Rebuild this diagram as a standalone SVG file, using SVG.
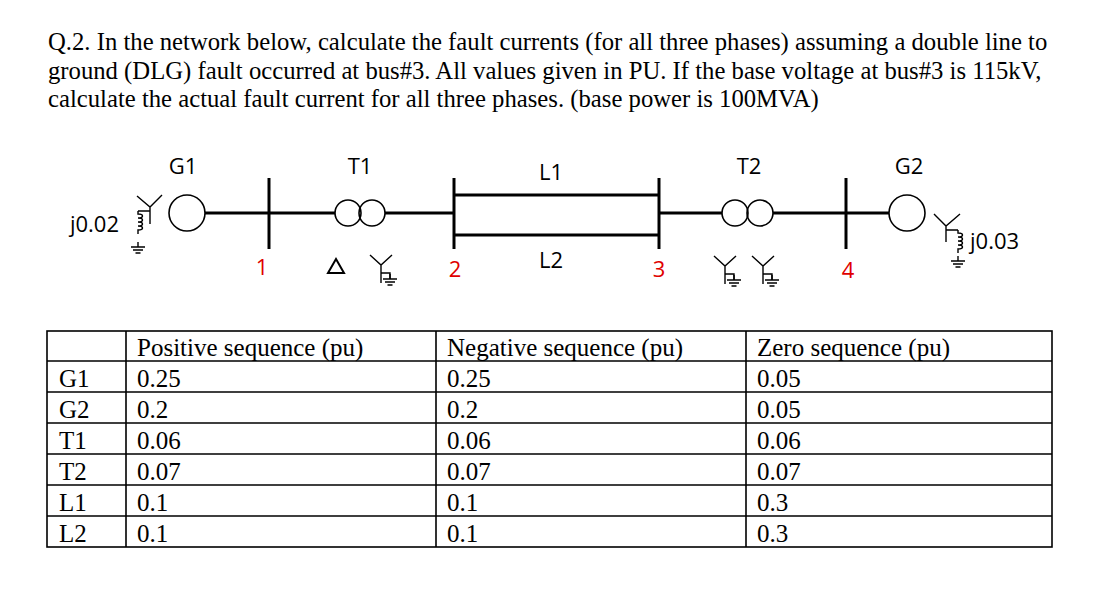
<svg xmlns="http://www.w3.org/2000/svg" width="1113" height="608" viewBox="0 0 1113 608">
<style>
.q{font-family:"Liberation Serif",serif;font-size:24.7px;fill:#000}
.t{font-family:"Liberation Serif",serif;font-size:25px;fill:#000}
.s{font-family:"Open Sans","Noto Sans",sans-serif;font-size:22px;fill:#000}
.r{font-family:"Open Sans","Noto Sans",sans-serif;font-size:22px;fill:#e00000}
.b{stroke:#000;stroke-width:3;fill:none}
.w{stroke:#000;stroke-width:1.6;fill:none}
.g{stroke:#000;stroke-width:1.4;fill:none}
</style>
<defs>
<g id="gnd"><path class="g" d="M0,0v5M-7,5h14M-5,8h10M-2.5,11h5"/></g>
<g id="yg"><path class="g" d="M-11,-12L0,-2L11,-12M0,-2V16M0,6h9v6"/><use href="#gnd" x="9" y="7"/></g>
</defs>
<rect width="1113" height="608" fill="#fff"/>
<text class="q" x="48" y="50">Q.2. In the network below, calculate the fault currents (for all three phases) assuming a double line to</text>
<text class="q" x="48" y="79">ground (DLG) fault occurred at bus#3. All values given in PU. If the base voltage at bus#3 is 115kV,</text>
<text class="q" x="48" y="107">calculate the actual fault current for all three phases. (base power is 100MVA)</text>
<g id="connectors">
<path class="b" d="M205,213H269M269,213H335M385,213H454M454,195H659M454,235H659M659,213H722M773,213H846M846,213H889"/>
</g>
<g id="G1"><circle class="w" cx="187" cy="213" r="18"/>
<path class="g" d="M137,196L150,207L162,195M150,207V224M150,211h-12"/>
<path class="g" d="M138,211v3c6,0 6,4 0,4c6,0 6,4 0,4c6,0 6,4 0,4c6,0 6,4 0,4v4"/>
<use href="#gnd" x="138" y="242"/>
<text class="s" x="119" y="232" text-anchor="end">j0.02</text>
<text class="s" x="183" y="174" text-anchor="middle">G1</text></g>
<g id="bus1"><path class="b" d="M269,178V249"/><text class="r" x="262" y="275" text-anchor="middle">1</text></g>
<g id="T1"><circle class="w" cx="348" cy="213" r="13"/><circle class="w" cx="372" cy="213" r="13"/>
<text class="s" x="360" y="174" text-anchor="middle">T1</text>
<path d="M328,273L336,259L344,273Z" stroke="#000" stroke-width="2" fill="none"/>
<use href="#yg" x="381" y="267"/></g>
<g id="bus2"><path class="b" d="M454,178V249"/><text class="r" x="455" y="277" text-anchor="middle">2</text></g>
<g id="L1"><text class="s" x="551" y="180" text-anchor="middle">L1</text></g>
<g id="L2"><text class="s" x="551" y="268" text-anchor="middle">L2</text></g>
<g id="bus3"><path class="b" d="M659,178V249"/><text class="r" x="659" y="277" text-anchor="middle">3</text></g>
<g id="T2"><circle class="w" cx="735" cy="213" r="13"/><circle class="w" cx="760" cy="213" r="13"/>
<text class="s" x="749" y="174" text-anchor="middle">T2</text>
<use href="#yg" x="725" y="268"/><use href="#yg" x="763" y="268"/></g>
<g id="bus4"><path class="b" d="M846,178V249"/><text class="r" x="848" y="278" text-anchor="middle">4</text></g>
<g id="G2"><circle class="w" cx="907" cy="213" r="18"/>
<path class="g" d="M934,214L946,226L960,214M946,226V242M946,230h12"/>
<path class="g" d="M958,230v3c6,0 6,4 0,4c6,0 6,4 0,4c6,0 6,4 0,4c6,0 6,4 0,4v4"/>
<use href="#gnd" x="958" y="256"/>
<text class="s" x="970" y="249">j0.03</text>
<text class="s" x="909" y="174" text-anchor="middle">G2</text></g>
<g id="table">
<rect x="47" y="331" width="1005" height="216" fill="none" stroke="#000" stroke-width="1.6"/>
<path stroke="#000" stroke-width="1.6" d="M126,331V547M436,331V547M746,331V547M47,361H1052M47,392H1052M47,423H1052M47,454H1052M47,485H1052M47,516H1052"/>
<g class="t">
<text x="137" y="356">Positive sequence (pu)</text><text x="447" y="356">Negative sequence (pu)</text><text x="757" y="356">Zero sequence (pu)</text>
<text x="59" y="387">G1</text><text x="137" y="387">0.25</text><text x="447" y="387">0.25</text><text x="757" y="387">0.05</text>
<text x="59" y="418">G2</text><text x="137" y="418">0.2</text><text x="447" y="418">0.2</text><text x="757" y="418">0.05</text>
<text x="59" y="449">T1</text><text x="137" y="449">0.06</text><text x="447" y="449">0.06</text><text x="757" y="449">0.06</text>
<text x="59" y="480">T2</text><text x="137" y="480">0.07</text><text x="447" y="480">0.07</text><text x="757" y="480">0.07</text>
<text x="59" y="511">L1</text><text x="137" y="511">0.1</text><text x="447" y="511">0.1</text><text x="757" y="511">0.3</text>
<text x="59" y="542">L2</text><text x="137" y="542">0.1</text><text x="447" y="542">0.1</text><text x="757" y="542">0.3</text>
</g></g>
</svg>
